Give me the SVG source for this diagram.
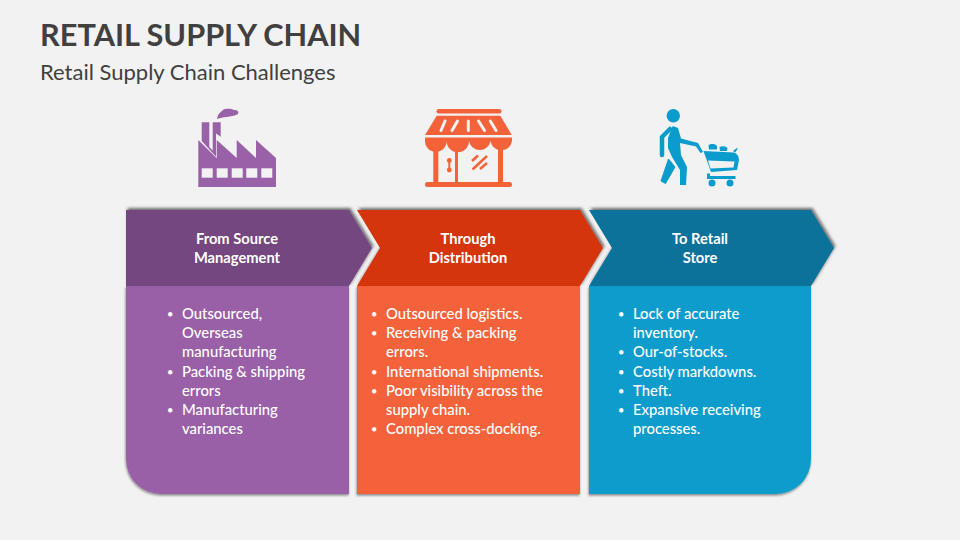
<svg xmlns="http://www.w3.org/2000/svg" width="960" height="540" viewBox="0 0 960 540">
<style>
text{font-family:Lato,"Open Sans","Liberation Sans",sans-serif}
.t{font-size:30.7px;font-weight:700;fill:#404040}
.s{font-size:22px;fill:#404040}
.h{font-size:14.7px;font-weight:700;fill:#fff;text-anchor:middle}
.b{font-size:14.8px;font-weight:500;fill:#fff}
.d{font-size:11px}
.sh{filter:url(#sd)}
.su{filter:url(#su)}
</style>
<defs>
<filter id="sd" x="-10%" y="-10%" width="120%" height="120%"><feDropShadow dx="-0.5" dy="1.5" stdDeviation="1.2" flood-color="#000" flood-opacity="0.45"/></filter>
<filter id="su" x="-10%" y="-15%" width="120%" height="130%"><feDropShadow dx="1.5" dy="-2" stdDeviation="1.5" flood-color="#000" flood-opacity="0.55"/></filter>
</defs>
<rect width="960" height="540" fill="#f2f2f2"/>
<text class="t" x="40" y="46">RETAIL SUPPLY CHAIN</text>
<text class="s" x="40" y="80">Retail Supply Chain Challenges</text>
<g id="icon-factory" fill="#9961a8">
<path d="M198.3 140L216.7 158.3V140L236.7 158V140L256 158V140L276 158V187H198.3Z"/>
<path d="M201.7 122.3H209.3V147L212.7 150.5V122.3H220.7V136.7L216 133.5V156.7L201.7 141Z"/>
<path d="M217 119C218 113 221 112 223 110C226 108 232 109 234 110C238 110 239 112 238 114C235 116 230 116 227 117C223 117 220 118 217 119Z"/>
<g fill="#f2f2f2"><rect x="201.7" y="168.3" width="11" height="9.4"/><rect x="216.7" y="168.3" width="11" height="9.4"/><rect x="231.7" y="168.3" width="11" height="9.4"/><rect x="246.3" y="168.3" width="11" height="9.4"/><rect x="261.3" y="168.3" width="11" height="9.4"/></g>
</g>
<g id="icon-store" fill="#f4623a">
<rect x="436.5" y="109" width="65" height="4.6" rx="2.3"/>
<path d="M436.7 115.7H500.3L511.7 135H425Z"/>
<path d="M425 137.5H512V141A10.8 10.8 0 0 1 490.6 141A11 11 0 0 1 469 141A11.2 11.2 0 0 1 446.6 141A10.8 10.8 0 0 1 425 141Z"/>
<rect x="433.3" y="148" width="5" height="35"/><rect x="455" y="148" width="3" height="35"/><rect x="498" y="148" width="5" height="35"/>
<rect x="425" y="182" width="87" height="5" rx="2.5"/>
<path d="M445 121L441 130.5M457.5 121L452 130.5M468.3 121V130.5M478.5 121L484.5 130.5M490.3 121L496 130.5" stroke="#f2f2f2" stroke-width="3" stroke-linecap="round"/>
<path d="M449.3 160V171" stroke="#f4623a" stroke-width="2"/><circle cx="449.3" cy="160.5" r="2.4"/><circle cx="449.3" cy="170" r="2.4"/>
<path d="M472 161L478 155.5M472.5 169.5L487 156M480 169L487 163" stroke="#f4623a" stroke-width="2.5" fill="none"/>
</g>
<g id="icon-shopper" fill="#0a9ccc">
<circle cx="673.3" cy="115.7" r="6.7"/>
<path d="M672.7 126L678 128L681 138.5L698 143L703 152L700.5 153L696 146.5L680 143L681 155L687 167L686 185H680L680 170L672 157L668 148L668 138Z"/>
<path d="M670 129L662 137V155" fill="none" stroke="#0a9ccc" stroke-width="4.5" stroke-linecap="round" stroke-linejoin="round"/>
<path d="M668.5 159L675 167L665.500 183.500L661 181Z" stroke="#0a9ccc" stroke-width="1" stroke-linejoin="round"/>
<path fill-rule="evenodd" d="M703.500 151L734 152.500C737 153.500 739 156 739 160L737 170L711 172ZM708 160.500L710.500 168.500L733.500 167.500L734.500 161.500Z"/>
<path d="M707 173.500H710V176H735.500V179H707Z"/>
<circle cx="712" cy="183" r="3.500"/><circle cx="730" cy="183" r="3.500"/>
<path d="M708.500 145.500C710 143.500 715 143.500 717 146L717 149.500H709Z M719.500 147C722 145.500 726 146 727.500 148L727 151H720Z M733 151L737.500 147.500L737 150L735 152.500Z"/>
</g>
<g id="node-1">
<path class="sh" fill="#9961a8" d="M126 286H349V494H161A35 35 0 0 1 126 459Z"/>
<path class="su" fill="#744781" d="M126 210H349L372 248L349 286H126Z"/>
<text class="h" x="237" y="244">From Source</text><text class="h" x="237" y="263">Management</text>
<g class="b"><text class="d" x="167" y="318">•</text><text x="182" y="319">Outsourced,</text><text x="182" y="338">Overseas</text><text x="182" y="357">manufacturing</text><text class="d" x="167" y="376">•</text><text x="182" y="377">Packing &amp; shipping</text><text x="182" y="396">errors</text><text class="d" x="167" y="414">•</text><text x="182" y="415">Manufacturing</text><text x="182" y="434">variances</text></g>
</g>
<g id="node-2">
<path class="sh" fill="#f4623a" d="M357 286H580V494H357Z"/>
<path class="su" fill="#d4350e" d="M357 210H580L603 248L580 286H357L380 248Z"/>
<text class="h" x="468" y="244">Through</text><text class="h" x="468" y="263">Distribution</text>
<g class="b"><text class="d" x="371" y="318">•</text><text x="386" y="319">Outsourced logistics.</text><text class="d" x="371" y="337">•</text><text x="386" y="338">Receiving &amp; packing</text><text x="386" y="357">errors.</text><text class="d" x="371" y="376">•</text><text x="386" y="377">International shipments.</text><text class="d" x="371" y="395">•</text><text x="386" y="396">Poor visibility across the</text><text x="386" y="415">supply chain.</text><text class="d" x="371" y="433">•</text><text x="386" y="434">Complex cross-docking.</text></g>
</g>
<g id="node-3">
<path class="sh" fill="#0a9ccc" d="M589 286H811V459A35 35 0 0 1 776 494H589Z"/>
<path class="su" fill="#08729a" d="M589 210H811L834 248L811 286H589L612 248Z"/>
<text class="h" x="700" y="244">To Retail</text><text class="h" x="700" y="263">Store</text>
<g class="b"><text class="d" x="618" y="318">•</text><text x="633" y="319">Lock of accurate</text><text x="633" y="338">inventory.</text><text class="d" x="618" y="356">•</text><text x="633" y="357">Our-of-stocks.</text><text class="d" x="618" y="376">•</text><text x="633" y="377">Costly markdowns.</text><text class="d" x="618" y="395">•</text><text x="633" y="396">Theft.</text><text class="d" x="618" y="414">•</text><text x="633" y="415">Expansive receiving</text><text x="633" y="434">processes.</text></g>
</g>
</svg>
